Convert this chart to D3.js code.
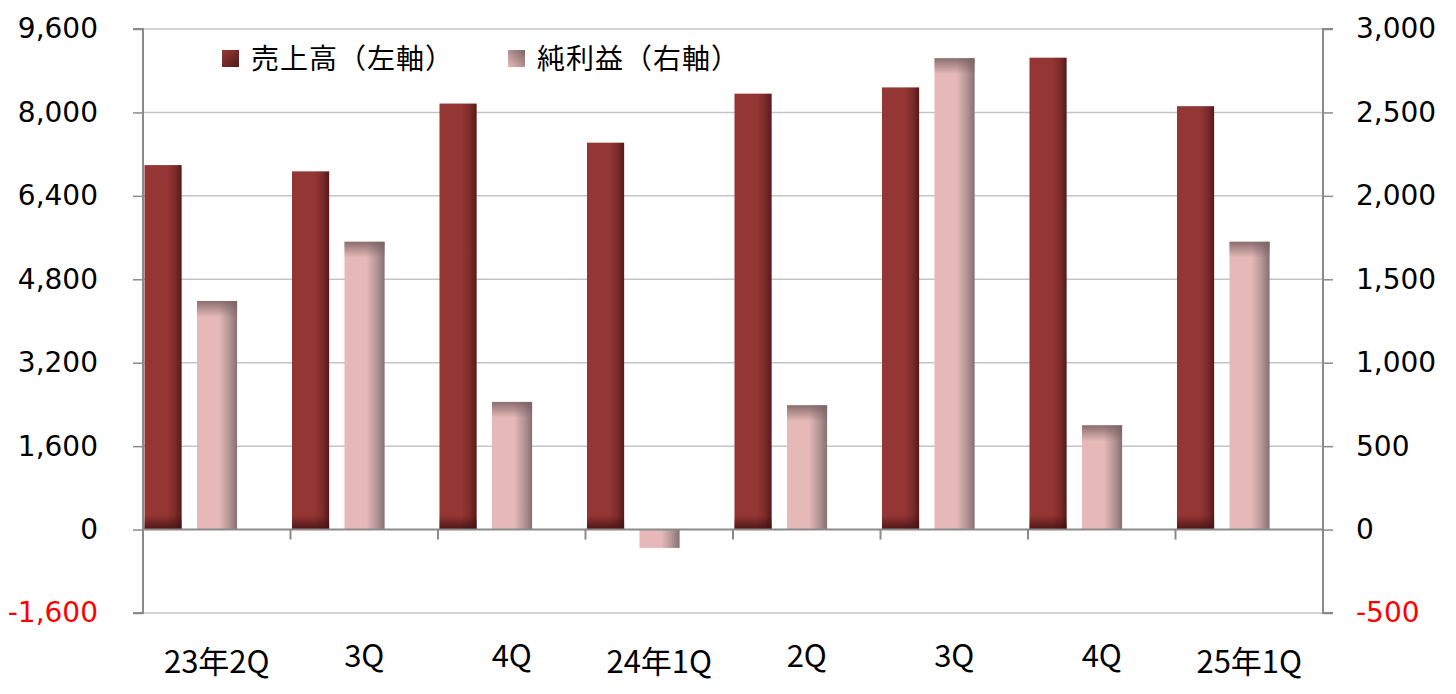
<!DOCTYPE html>
<html><head><meta charset="utf-8">
<script src="https://cdn.jsdelivr.net/npm/d3@7"></script>
<style>body{margin:0;background:#fff}svg{display:block}</style>
</head><body>
<script>
const categories = ["23年2Q","3Q","4Q","24年1Q","2Q","3Q","4Q","25年1Q"];
const sales = [6990, 6870, 8170, 7420, 8360, 8480, 9050, 8120];
const profit = [1370, 1725, 765, -110, 745, 2825, 625, 1725];
const leftTicks = [-1600, 0, 1600, 3200, 4800, 6400, 8000, 9600];
const rightTicks = [-500, 0, 500, 1000, 1500, 2000, 2500, 3000];
const legendLabels = ["売上高（左軸）", "純利益（右軸）"];

const W = 1456, H = 694;
const svg = d3.select("body").append("svg").attr("width", W).attr("height", H);
const defs = svg.append("defs");

const x0 = 143, x1 = 1323, yTop = 29, yBot = 613;
const x = d3.scaleBand().domain(d3.range(categories.length)).range([x0, x1]).padding(0);
const yL = d3.scaleLinear().domain([-1600, 9600]).range([yBot, yTop]);
const yR = d3.scaleLinear().domain([-500, 3000]).range([yBot, yTop]);
const fmt = d => d3.format(",")(d).replace("\u2212", "-");

function grad(id, dir, stops) {
  const g = defs.append("linearGradient").attr("id", id)
    .attr("x1", 0).attr("y1", 0).attr("x2", dir === "h" ? 1 : 0).attr("y2", dir === "h" ? 0 : 1);
  stops.forEach(s => g.append("stop").attr("offset", s[0]).attr("stop-color", s[1]).attr("stop-opacity", s[2] == null ? 1 : s[2]));
}
grad("redH", "h", [[0, "#943634"], [0.6, "#943634"], [0.82, "#7c2c2b"], [1, "#561a19"]]);
grad("redB", "v", [[0, "#3a0e0e", 0], [1, "#3a0e0e", 0.8]]);
grad("pinkH", "h", [[0, "#e6b9b8"], [0.55, "#e6b9b8"], [0.8, "#b59596"], [1, "#857071"]]);
grad("pinkT", "v", [[0, "#7a6062", 0.85], [1, "#7a6062", 0]]);
const lg1 = defs.append("linearGradient").attr("id", "legRed").attr("x1", 0).attr("y1", 0).attr("x2", 1).attr("y2", 1);
lg1.append("stop").attr("offset", 0).attr("stop-color", "#9a3a38");
lg1.append("stop").attr("offset", 1).attr("stop-color", "#4e1a19");
const lg2 = defs.append("linearGradient").attr("id", "legPink").attr("x1", 0).attr("y1", 1).attr("x2", 1).attr("y2", 0);
lg2.append("stop").attr("offset", 0).attr("stop-color", "#e6b9b8");
lg2.append("stop").attr("offset", 1).attr("stop-color", "#7d6566");

// gridlines
svg.append("g").selectAll("line").data(leftTicks.filter(d => d !== 0)).join("line")
  .attr("x1", x0).attr("x2", x1).attr("y1", d => yL(d)).attr("y2", d => yL(d))
  .attr("stroke", "#c4c4c4").attr("stroke-width", 1.5);

const bw = x.bandwidth();
const sg = svg.append("g");
sales.forEach((v, i) => {
  const bx = x(i) + bw * 0.01, w = bw * 0.252;
  const top = yL(Math.max(0, v)), bot = yL(Math.min(0, v));
  sg.append("rect").attr("x", bx).attr("y", top).attr("width", w).attr("height", bot - top).attr("fill", "url(#redH)");
  const bh = Math.min(14, bot - top);
  sg.append("rect").attr("x", bx).attr("y", bot - bh).attr("width", w).attr("height", bh).attr("fill", "url(#redB)");
});
const pg = svg.append("g");
profit.forEach((v, i) => {
  const bx = x(i) + bw * 0.366, w = bw * 0.272;
  const top = yR(Math.max(0, v)), bot = yR(Math.min(0, v));
  pg.append("rect").attr("x", bx).attr("y", top).attr("width", w).attr("height", bot - top).attr("fill", "url(#pinkH)");
  if (v > 0) {
    const th = Math.min(16, bot - top);
    pg.append("rect").attr("x", bx).attr("y", top).attr("width", w).attr("height", th).attr("fill", "url(#pinkT)");
  }
});

const axisColor = "#8a8a8a";
svg.append("line").attr("x1", x0).attr("x2", x1).attr("y1", yL(0)).attr("y2", yL(0)).attr("stroke", axisColor).attr("stroke-width", 2);
svg.append("g").selectAll("line").data(d3.range(1, categories.length)).join("line")
  .attr("x1", d => x(d)).attr("x2", d => x(d)).attr("y1", yL(0)).attr("y2", yL(0) + 10)
  .attr("stroke", axisColor).attr("stroke-width", 2);

const gl = svg.append("g").attr("transform", `translate(${x0},0)`)
  .call(d3.axisLeft(yL).tickValues(leftTicks).tickSize(10).tickPadding(35).tickFormat(fmt));
gl.select(".domain").attr("stroke", axisColor).attr("stroke-width", 2).attr("d", `M-10,${yTop}H0V${yBot}H-10`);
gl.selectAll(".tick line").attr("stroke", axisColor).attr("stroke-width", 1.5);
gl.selectAll(".tick text").attr("font-family", "'DejaVu Sans', Verdana, sans-serif").attr("font-size", 28)
  .attr("fill", d => d < 0 ? "#ff0000" : "#000");

const gr = svg.append("g").attr("transform", `translate(${x1},0)`)
  .call(d3.axisRight(yR).tickValues(rightTicks).tickSize(10).tickPadding(23).tickFormat(fmt));
gr.select(".domain").attr("stroke", axisColor).attr("stroke-width", 2).attr("d", `M10,${yTop}H0V${yBot}H10`);
gr.selectAll(".tick line").attr("stroke", axisColor).attr("stroke-width", 1.5);
gr.selectAll(".tick text").attr("font-family", "'DejaVu Sans', Verdana, sans-serif").attr("font-size", 28)
  .attr("fill", d => d < 0 ? "#ff0000" : "#000");

svg.append("g").selectAll("text").data(categories).join("text")
  .attr("x", (d, i) => x(i) + bw / 2)
  .attr("y", d => d.includes("年") ? 673 : 667)
  .attr("text-anchor", "middle")
  .attr("font-family", "'Noto Sans CJK JP', sans-serif").attr("font-size", 31)
  .attr("fill", "#000").text(d => d);

const leg = svg.append("g");
const legX = [222, 508];
const legFill = ["url(#legRed)", "url(#legPink)"];
legendLabels.forEach((t, i) => {
  leg.append("rect").attr("x", legX[i]).attr("y", 50).attr("width", 17).attr("height", 17).attr("fill", legFill[i]);
  leg.append("text").attr("x", legX[i] + 29).attr("y", 69).attr("font-family", "'Noto Sans CJK JP', sans-serif")
    .attr("font-size", 28).attr("letter-spacing", 1).attr("fill", "#000").text(t);
});
</script>
</body></html>
